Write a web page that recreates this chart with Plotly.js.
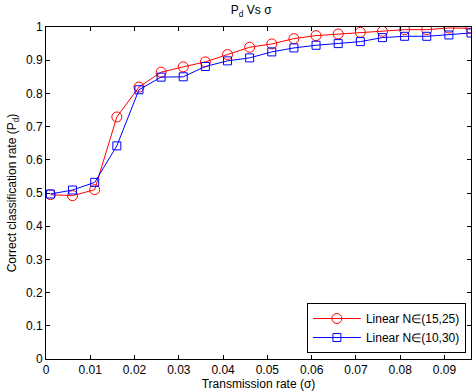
<!DOCTYPE html>
<html><head><meta charset="utf-8">
<script src="https://cdn.plot.ly/plotly-3.0.1.min.js"></script>
<style>body{margin:0;padding:0;background:#fff}#chart{width:474px;height:392px}</style>
</head><body><div id="chart"></div>
<script>
const sigma = [0.001,0.006,0.011,0.016,0.021,0.026,0.031,0.036,0.041,0.046,0.051,0.056,0.061,0.066,0.071,0.076,0.081,0.086,0.091,0.096];
const pdLinear1525 = [0.495,0.492,0.51,0.729,0.819,0.864,0.88,0.895,0.917,0.939,0.949,0.965,0.974,0.979,0.984,0.987,0.992,0.992,0.997,0.996];
const pdLinear1030 = [0.497,0.509,0.532,0.642,0.811,0.849,0.85,0.881,0.898,0.907,0.925,0.937,0.945,0.95,0.956,0.968,0.972,0.972,0.976,0.982];
const names = ['Linear N\u2208(15,25)','Linear N\u2208(10,30)'];
const xTicks = [0,0.01,0.02,0.03,0.04,0.05,0.06,0.07,0.08,0.09];
const yTicks = [0,0.1,0.2,0.3,0.4,0.5,0.6,0.7,0.8,0.9,1];

const font = {family:'Liberation Sans, Arial, sans-serif', size:12, color:'#000'};
const traces = [
  {x:sigma, y:pdLinear1525, name:names[0], mode:'lines+markers', type:'scatter',
   line:{color:'#ff0000', width:1}, marker:{symbol:'circle-open', size:10, color:'#ff0000', line:{width:1}}},
  {x:sigma, y:pdLinear1030, name:names[1], mode:'lines+markers', type:'scatter',
   line:{color:'#0000ff', width:1}, marker:{symbol:'square-open', size:8, color:'#0000ff', line:{width:1}}}
];
const axisCommon = {showgrid:false, zeroline:false, showline:true, mirror:'ticks', linecolor:'#000', linewidth:1,
  ticks:'inside', ticklen:4, tickcolor:'#000', tickfont:font};
const layout = {
  width:474, height:392, margin:{l:46, r:3, t:27, b:33},
  paper_bgcolor:'#fff', plot_bgcolor:'#fff', font:font, showlegend:true,
  title:{text:'P<sub>d</sub> Vs \u03c3', font:{family:font.family, size:12, color:'#000'}, x:0.53, xanchor:'center', y:0.985, yanchor:'top'},
  xaxis:Object.assign({}, axisCommon, {range:[0,0.096], tickvals:xTicks, ticktext:xTicks.map(String),
    title:{text:'Transmission rate (\u03c3)', font:font, standoff:3}}),
  yaxis:Object.assign({}, axisCommon, {range:[0,1], tickvals:yTicks, ticktext:yTicks.map(String),
    title:{text:'Correct classification rate (P<sub>d</sub>)', font:font, standoff:6}}),
  legend:{x:0.988, xanchor:'right', y:0.018, yanchor:'bottom', bgcolor:'#fff', bordercolor:'#000', borderwidth:1,
    font:{family:font.family, size:12, color:'#000'}, tracegroupgap:0, itemwidth:48}
};
Plotly.newPlot('chart', traces, layout, {displayModeBar:false, staticPlot:true});
</script></body></html>
